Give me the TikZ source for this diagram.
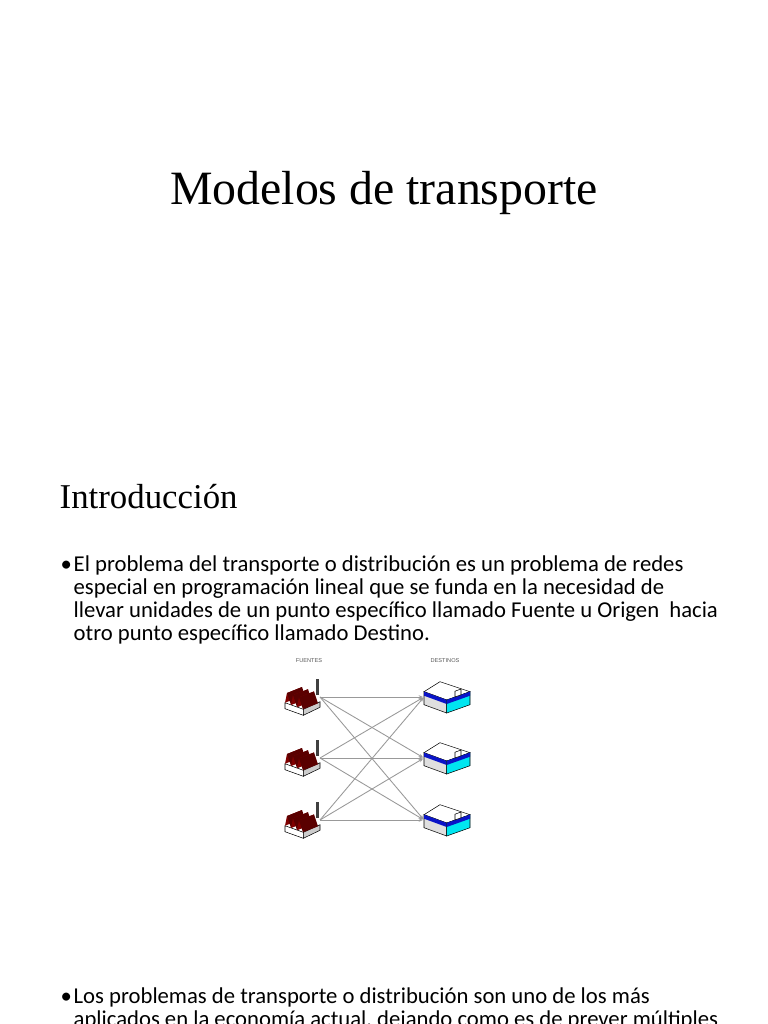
\documentclass[tikz,border=0pt]{standalone}
\usepackage{fontspec}
\setmainfont{Liberation Serif}
\newfontfamily\body{Carlito}
\newfontfamily\lab{Liberation Sans}
\usetikzlibrary{arrows.meta}
\definecolor{roofred}{RGB}{128,0,0}
\definecolor{roofdark}{RGB}{90,0,0}
\definecolor{wblue}{RGB}{10,20,200}
\definecolor{wcyan}{RGB}{0,230,240}
\tikzset{
  bodytxt/.style={anchor=base west,font=\body\fontsize{6.45}{7.5}\selectfont,inner sep=0},
  link/.style={draw=gray!80,line width=0.25pt,-{Stealth[length=1.2pt,width=1pt]},shorten >=0.3pt},
  factory/.pic={
    \fill[gray!50!black] (-4,-18) rectangle (-1,-2);
    \draw[line width=0.15pt,fill=white] (-35,5.7) -- (-16.7,12.3) -- (-16.7,18.3) -- (-35,11.7) -- cycle;
    \draw[line width=0.15pt,fill=gray!40] (-16.7,12.3) -- (0,4.7) -- (0,10.3) -- (-16.7,18.3) -- cycle;
    \foreach \k in {0,1,2}{
      \begin{scope}[shift={(6*\k,2.2*\k)}]
        \fill[roofred] (-35,5.7) -- (-33,-4) -- (-18,-10) -- (-20,-0.3) -- cycle;
        \fill[roofdark] (-33,-4) -- (-29,7.9) -- (-14,1.9) -- (-18,-10) -- cycle;
      \end{scope}}
  },
  warehouse/.pic={
    \draw[line width=0.15pt,fill=white] (0,-5.3) -- (16,-15.3) -- (46,-5.3) -- (22.7,3) -- cycle;
    \draw[line width=0.15pt,fill=gray!25] (0,-5.3) -- (22.7,3) -- (22.7,16) -- (0,7.7) -- cycle;
    \fill[wblue] (0,-5.3) -- (22.7,3) -- (22.7,7) -- (0,-1.3) -- cycle;
    \draw[line width=0.15pt,fill=wcyan] (22.7,3) -- (46,-5.3) -- (46,7.7) -- (22.7,16) -- cycle;
    \fill[wblue] (22.7,3) -- (46,-5.3) -- (46,-1.3) -- (22.7,7) -- cycle;
    \draw[line width=0.15pt,fill=white] (31,0) -- (37,-2.2) -- (37,-8) -- (31,-5.8) -- cycle;
  }
}
\begin{document}
\begin{tikzpicture}[x=0.01cm,y=-0.01cm]
\useasboundingbox (0,0) rectangle (768,1024);
\node (title) at (384,193) {\fontsize{13.6}{15}\selectfont Modelos de transporte};
\node[anchor=west,inner sep=0] (intro) at (59,497) {\fontsize{9.9}{11}\selectfont Introducción};
\node[bodytxt] (b1) at (60,571) {•};
\node[bodytxt] (l1) at (73,571) {El problema del transporte o distribución es un problema de redes};
\node[bodytxt] (l2) at (73,594) {especial en programación lineal que se funda en la necesidad de};
\node[bodytxt] (l3) at (73,617) {llevar unidades de un punto específico llamado Fuente u Origen\ \ hacia};
\node[bodytxt] (l4) at (73,640) {otro punto específico llamado Destino.};
\node[bodytxt] (b2) at (60,1003) {•};
\node[bodytxt] (m1) at (73,1003) {Los problemas de transporte o distribución son uno de los más};
\node[bodytxt] (m2) at (73,1026) {aplicados en la economía actual, dejando como es de prever múltiples};
\node[font=\lab\fontsize{1.6}{2}\selectfont,text=gray!70!black] (fu) at (309,661) {FUENTES};
\node[font=\lab\fontsize{1.6}{2}\selectfont,text=gray!70!black] (de) at (445,661) {DESTINOS};
\coordinate (f1) at (320,697); \coordinate (f2) at (320,758); \coordinate (f3) at (320,820);
\coordinate (d1) at (424,697); \coordinate (d2) at (424,758); \coordinate (d3) at (424,820);
\foreach \i in {1,2,3}{\foreach \j in {1,2,3}{\draw[link] (f\i) -- (d\j);}}
\foreach \i in {1,2,3}{\pic at (f\i) {factory}; \pic at (d\i) {warehouse};}
\end{tikzpicture}
\end{document}
